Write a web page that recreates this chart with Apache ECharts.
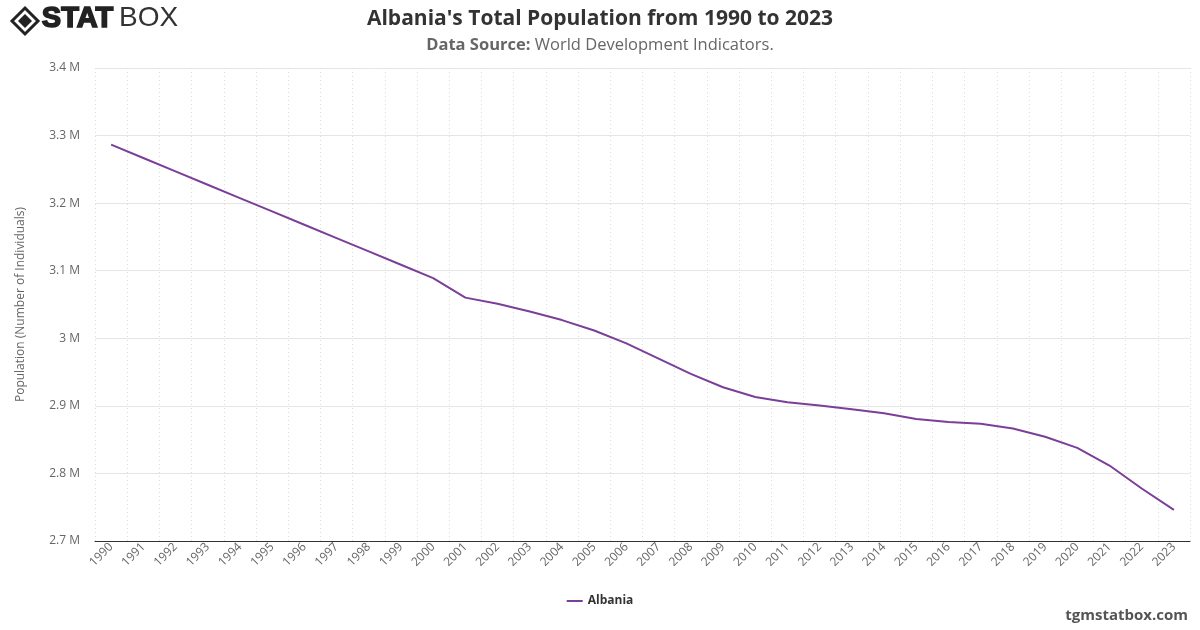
<!DOCTYPE html>
<html>
<head>
<meta charset="utf-8">
<script src="https://cdn.jsdelivr.net/npm/echarts@6/dist/echarts.min.js"></script>
<style>
  html, body { margin: 0; padding: 0; background: #fff; }
  #main { width: 1200px; height: 630px; }
</style>
</head>
<body>
<div id="main"></div>
<script>
// years on the x axis
let years = [];
for (let y = 1990; y <= 2023; y++) years.push(String(y));

// Albania total population
let albania = [
    3286542, 3266790, 3247039, 3227287, 3207536, 3187784, 3168033, 3148281,
    3128530, 3108778, 3089027, 3060173, 3051010, 3039616, 3026939, 3011487,
    2992547, 2970017, 2947314, 2927519, 2913021, 2905195, 2900401, 2895092,
    2889104, 2880703, 2876101, 2873457, 2866376, 2854191, 2837849, 2811666,
    2777689, 2745972
];

let chart = echarts.init(document.getElementById('main'));

let option = {
    backgroundColor: '#fff',
    animation: false,
    title: {
        text: "Albania's Total Population from 1990 to 2023",
        left: 'center',
        top: 4,
        textStyle: { fontFamily: 'Open Sans', fontSize: 21, fontWeight: 'bold', color: '#333' },
        subtext: '{b|Data Source:} World Development Indicators.',
        subtextStyle: {
            fontFamily: 'Open Sans', fontSize: 16.5, color: '#666',
            rich: { b: { fontFamily: 'Open Sans', fontSize: 16.5, fontWeight: 'bold', color: '#666' } }
        },
        itemGap: 7
    },
    legend: {
        bottom: 18,
        left: 'center',
        icon: 'path://M0,0 L16,0 L16,2 L0,2 Z',
        itemWidth: 16,
        itemHeight: 2,
        textStyle: { fontFamily: 'Open Sans', fontSize: 12, fontWeight: 'bold', color: '#333' },
        data: ['Albania']
    },
    grid: { left: 95, right: 10, top: 68, bottom: 89 },
    xAxis: {
        type: 'category',
        data: years,
        boundaryGap: true,
        axisLine: { lineStyle: { color: '#333', width: 1 } },
        axisTick: { show: false },
        axisLabel: { rotate: 45, fontFamily: 'Open Sans', fontSize: 12, color: '#666', margin: 4, interval: 0 },
        splitLine: { show: true, lineStyle: { color: '#ddd', type: [1, 3] } }
    },
    yAxis: {
        type: 'value',
        min: 2700000,
        max: 3400000,
        interval: 100000,
        name: 'Population (Number of Individuals)',
        nameLocation: 'middle',
        nameGap: 68,
        nameTextStyle: { fontFamily: 'Open Sans', fontSize: 12, color: '#666' },
        axisLine: { show: false },
        axisTick: { show: false },
        axisLabel: {
            fontFamily: 'Open Sans', fontSize: 12, color: '#666', margin: 15,
            formatter: function (v) { return (v / 1000000).toString() + ' M'; }
        },
        splitLine: { lineStyle: { color: '#e6e6e6' } }
    },
    series: [{
        name: 'Albania',
        type: 'line',
        data: albania,
        showSymbol: false,
        symbol: 'none',
        lineStyle: { color: '#7b3f98', width: 2 },
        itemStyle: { color: '#7b3f98' }
    }],
    graphic: [
        // logo
        { type: 'polygon', shape: { points: [[25, 8], [38, 21], [25, 34], [12, 21]] },
          style: { fill: 'none', stroke: '#222', lineWidth: 3 } },
        { type: 'polygon', shape: { points: [[25, 14], [32, 21], [25, 28], [18, 21]] },
          style: { fill: '#222' } },
        { type: 'text', left: 41, top: 4,
          style: { text: 'STAT', fontFamily: 'Liberation Sans', fontSize: 29, fontWeight: 'bold',
                   fill: '#222', stroke: '#222', lineWidth: 1.6 } },
        { type: 'text', left: 119, top: 4,
          style: { text: 'BOX', fontFamily: 'Liberation Sans', fontSize: 28, fontWeight: 'normal', fill: '#333' } },
        // watermark
        { type: 'text', right: 12, top: 608,
          style: { text: 'tgmstatbox.com', fontFamily: 'Open Sans', fontSize: 15, fontWeight: 'bold', fill: '#555' } }
    ]
};

chart.setOption(option);
</script>
</body>
</html>
